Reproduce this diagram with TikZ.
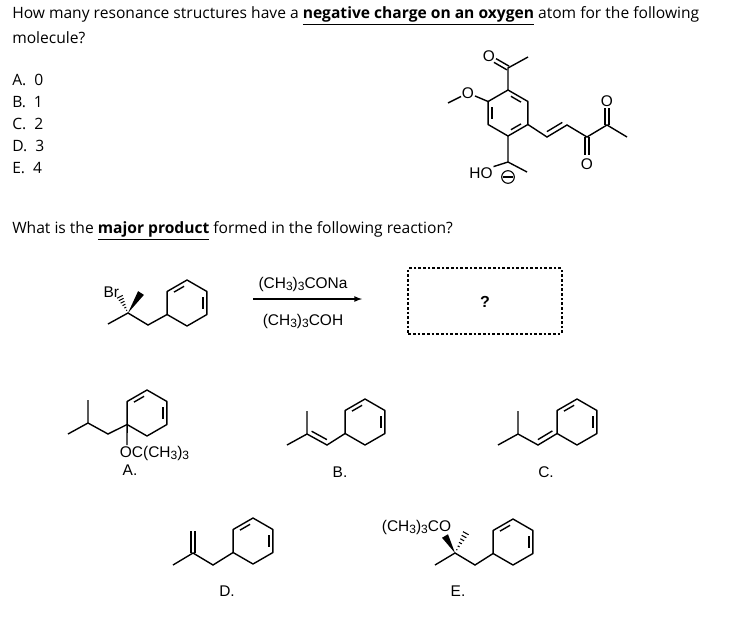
\documentclass[tikz,border=0pt]{standalone}
\usepackage{fontspec}
\setmainfont{Open Sans}
\newfontfamily\chemf{Liberation Sans}
\usetikzlibrary{calc}
\newcommand\sbs[1]{\raisebox{-0.35ex}{\fontsize{9}{9}\selectfont #1}}
\tikzset{bond/.style={line width=1.05pt},
 lbl/.style={font=\chemf\fontsize{11.6}{13}\selectfont,inner sep=0.5pt},
 qtext/.style={anchor=west,font=\fontsize{11.7}{14}\selectfont,inner sep=0pt}}
\newcommand\chring[2]{%
 \coordinate (#1c) at (#2);
 \coordinate (#11) at ($(#1c)+(-90:23)$);
 \coordinate (#12) at ($(#1c)+(-30:23)$);
 \coordinate (#13) at ($(#1c)+(30:23)$);
 \coordinate (#14) at ($(#1c)+(90:23)$);
 \coordinate (#15) at ($(#1c)+(150:23)$);
 \coordinate (#16) at ($(#1c)+(210:23)$);
 \draw[bond,line join=round] (#11)--(#12)--(#13)--(#14)--(#15)--(#16)--cycle;}
\newcommand\inb[3]{\draw[bond,shorten <=2.5pt,shorten >=2.5pt] ($(#1c)!0.8!(#1#2)$) -- ($(#1c)!0.8!(#1#3)$);}
\newcommand\dbl[3]{\draw[bond,shorten <=2pt,shorten >=2pt] ($(#1)!3.5pt!#3:(#2)$) -- ($(#2)!3.5pt!-#3:(#1)$);}
\newcommand\cob[2]{\draw[bond] ($(#1)!1.6pt!90:(#2)$) -- ($(#2)!1.6pt!-90:(#1)$); \draw[bond] ($(#1)!1.6pt!-90:(#2)$) -- ($(#2)!1.6pt!90:(#1)$);}
\newcommand\hashb[2]{\foreach \t/\w in {0.15/0.4,0.3/0.8,0.45/1.2,0.6/1.6,0.75/2.0,0.9/2.4}{%
 \coordinate (hp) at ($(#1)!\t!(#2)$);
 \draw[line width=0.8pt] ($(hp)!\w pt!90:(#2)$) -- ($(hp)!\w pt!-90:(#2)$);}}
\newcommand\wedgeb[2]{\fill ($(#1)$) -- ($(#2)!2.6pt!90:(#1)$) -- ($(#2)!2.6pt!-90:(#1)$) -- cycle;}
\begin{document}
\begin{tikzpicture}[x=0.75pt,y=-0.75pt]
\useasboundingbox[fill=white] (0,0) rectangle (738,619);
% questions
\node[qtext] (q1) at (12,16) {How many resonance structures have a \underline{\textbf{negative charge on an oxygen}} atom for the following};
\node[qtext] (q2) at (12,38) {molecule?};
\node[qtext] (oa) at (12,80) {A.\ \ 0};
\node[qtext] (ob) at (12,102) {B.\ \ 1};
\node[qtext] (oc) at (12,124) {C.\ \ 2};
\node[qtext] (od) at (12,146) {D.\ \ 3};
\node[qtext] (oe) at (12,168) {E.\ \ 4};
\node[qtext] (q3) at (12,231) {What is the \underline{\textbf{major product}} formed in the following reaction?};
% top molecule
\chring{m}{508,113}
\inb{m}{1}{2}\inb{m}{3}{4}\inb{m}{5}{6}
\coordinate (mk) at (508,68); \draw[bond] (m1)--(mk) -- (528,57);
\node[lbl] (mo1) at (489,56) {O}; \coordinate (mo1e) at (495,60.5); \cob{mk}{mo1e}
\node[lbl] (mo2) at (468,93) {O}; \draw[bond] (m6) -- (mo2); \draw[bond] (mo2) -- (448,103);
\coordinate (mb) at (508,162); \draw[bond] (m4) -- (mb) -- (527,172);
\node[lbl] (mho) at (481,173) {HO}; \draw[bond] (mb) -- (mho.north east);
\node[draw,circle,line width=0.8pt,inner sep=0pt,minimum size=9.5pt] (mneg) at (508,177) {};
\draw[line width=0.9pt] ($(mneg.west)+(2,0)$) -- ($(mneg.east)+(-2,0)$);
\coordinate (v1) at (547,137); \coordinate (v2) at (567,125); \coordinate (v3) at (587,137); \coordinate (v4) at (607,125);
\draw[bond] (m3) -- (v1) -- (v2) -- (v3) -- (v4) -- (627,137);
\dbl{v1}{v2}{90}
\node[lbl] (o3) at (587,164) {O}; \coordinate (o3e) at (587,155); \cob{v3}{o3e}
\node[lbl] (o4) at (607,101) {O}; \coordinate (o4e) at (607,108); \cob{v4}{o4e}
% reactant
\chring{r}{187,303}
\inb{r}{6}{1}\inb{r}{2}{3}
\coordinate (r7) at (148,325); \coordinate (r8) at (128,313);
\draw[bond] (r5) -- (r7) -- (r8) -- (108,324);
\coordinate (r9) at (141,293); \wedgeb{r8}{r9}
\node[lbl,anchor=east] (rbr) at (120,292) {Br}; \coordinate (rbe) at (119,295); \hashb{r8}{rbe}
% arrow
\coordinate (aa) at (253,299); \coordinate (ab) at (362,299);
\draw[line width=1pt,-latex] (aa) -- (ab);
\node[lbl] (t1) at (303,284) {(CH\sbs{3})\sbs{3}CONa};
\node[lbl] (t2) at (303,321) {(CH\sbs{3})\sbs{3}COH};
\node[draw,dash pattern=on 2pt off 1.5pt,line width=1.3pt,minimum width=115pt,minimum height=49pt,inner sep=0pt] (box) at (485,301) {};
\node[font=\chemf\bfseries\fontsize{12}{13}\selectfont] (qm) at (485,302) {?};
% A
\chring{a}{147,413}
\inb{a}{6}{1}\inb{a}{2}{3}
\coordinate (a7) at (108,434); \coordinate (a8) at (88,423);
\draw[bond] (a5) -- (a7) -- (a8) -- (88,400); \draw[bond] (a8) -- (68,434);
\node[lbl,anchor=west] (aoc) at (119,453) {OC(CH\sbs{3})\sbs{3}};
\draw[bond] (a5) -- (127,445);
\node[lbl] (la) at (130,470) {A.};
% B
\chring{b}{365,422}
\inb{b}{6}{1}\inb{b}{2}{3}
\coordinate (b7) at (327,445); \coordinate (b8) at (307,434);
\draw[bond] (b5) -- (b7) -- (b8) -- (307,411); \draw[bond] (b8) -- (287,445);
\dbl{b7}{b8}{-90}
\node[lbl] (lb) at (340,472) {B.};
% C
\chring{c}{577,422}
\inb{c}{6}{1}\inb{c}{2}{3}
\coordinate (c7) at (538,445); \coordinate (c8) at (518,434);
\draw[bond] (c5) -- (c7) -- (c8) -- (518,411); \draw[bond] (c8) -- (498,445);
\dbl{c7}{c5}{90}
\node[lbl] (lc) at (546,472) {C.};
% D
\chring{d}{253,541}
\inb{d}{6}{1}\inb{d}{2}{3}
\coordinate (d7) at (213,565); \coordinate (d8) at (193,553); \coordinate (d9) at (193,531);
\draw[bond] (d5) -- (d7) -- (d8) -- (173,565);
\draw[bond] ($(d8)+(-2,0)$) -- ($(d9)+(-2,0)$); \draw[bond] ($(d8)+(2,0)$) -- ($(d9)+(2,0)$);
\node[lbl] (ld) at (227,591) {D.};
% E
\chring{e}{513,542}
\inb{e}{6}{1}\inb{e}{2}{3}
\coordinate (e7) at (475,565); \coordinate (e8) at (455,553);
\draw[bond] (e5) -- (e7) -- (e8) -- (435,565);
\node[lbl,anchor=east] (eoc) at (452,527) {(CH\sbs{3})\sbs{3}CO};
\coordinate (e9) at (445,536); \wedgeb{e8}{e9}
\coordinate (e10) at (467,531); \hashb{e8}{e10}
\node[lbl] (le) at (458,591) {E.};
\end{tikzpicture}
\end{document}
